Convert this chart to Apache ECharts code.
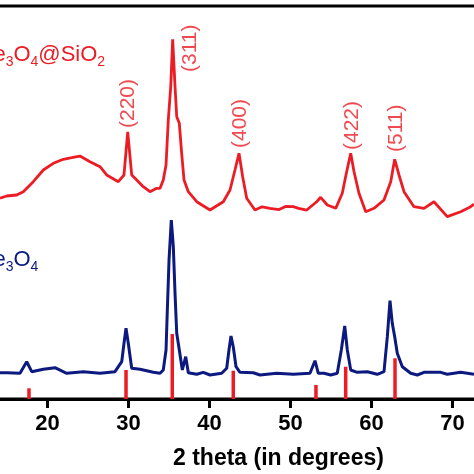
<!DOCTYPE html>
<html>
<head>
<meta charset="utf-8">
<script src="https://cdn.jsdelivr.net/npm/echarts@6/dist/echarts.min.js"></script>
<style>
  html, body { margin: 0; padding: 0; background: #fff; }
  #chart { width: 474px; height: 474px; }
</style>
</head>
<body>
<div id="chart"></div>
<script>
// XRD patterns (2 theta in degrees, intensity in arbitrary units 0..100)
const redTheta = [14.14, 14.97, 16.20, 17.02, 18.25, 19.49, 20.72, 21.96, 22.99, 24.02,
  25.25, 26.49, 27.31, 28.75, 29.45, 29.91, 30.40, 30.81, 31.83, 32.66,
  33.49, 33.90, 34.30, 34.64, 34.92, 35.22, 35.46, 35.75, 35.96, 36.28,
  36.57, 36.86, 37.39, 38.43, 40.07, 41.71, 42.54, 43.15, 43.65, 44.10,
  44.60, 45.62, 46.50, 47.48, 48.60, 49.40, 50.35, 51.00, 52.01, 53.24,
  53.73, 54.55, 55.59, 56.40, 56.90, 57.44, 57.85, 58.46, 59.29, 60.31,
  61.55, 62.38, 62.87, 63.40, 64.02, 65.25, 66.49, 67.72, 69.36, 71.02,
  72.25, 72.66];
const redInt = [51.07, 51.65, 51.91, 52.75, 55.29, 58.27, 59.97, 60.99, 61.40, 61.83,
  60.38, 59.11, 57.00, 55.29, 57.00, 67.94, 57.00, 56.16, 54.02, 52.75,
  53.61, 53.61, 55.73, 59.54, 70.99, 79.47, 91.53, 79.47, 71.83, 70.15,
  62.52, 55.73, 52.75, 50.20, 48.09, 50.20, 53.18, 58.27, 62.52, 56.56,
  51.07, 48.09, 48.90, 48.52, 48.20, 49.00, 48.93, 48.50, 48.09, 50.20,
  51.32, 49.36, 48.52, 52.34, 57.43, 62.52, 57.84, 52.34, 47.66, 48.52,
  50.64, 55.29, 60.99, 57.00, 52.75, 48.93, 48.52, 50.20, 46.39, 47.66,
  48.93, 49.62];

const navyTheta = [14.14, 14.97, 16.61, 17.44, 18.06, 19.49, 20.93, 22.38, 24.43, 26.49,
  28.34, 29.17, 29.45, 29.70, 29.98, 30.40, 31.43, 33.07, 33.90, 34.30,
  34.64, 34.80, 35.01, 35.29, 35.54, 35.75, 35.96, 36.28, 36.65, 37.07,
  37.39, 38.43, 39.24, 40.07, 41.51, 42.13, 42.41, 42.66, 42.94, 43.28,
  43.77, 45.41, 46.24, 48.30, 50.35, 52.41, 53.03, 53.44, 54.14, 54.97,
  55.78, 56.28, 56.70, 57.02, 57.44, 58.25, 59.49, 60.72, 61.55, 61.96,
  62.29, 62.57, 62.87, 63.19, 63.81, 64.85, 65.66, 66.49, 68.55, 69.36,
  71.02, 72.66];
const navyInt = [6.69, 6.69, 6.54, 9.49, 6.95, 7.56, 7.96, 6.54, 6.95, 6.54,
  6.95, 9.49, 14.17, 17.99, 14.17, 7.81, 7.56, 6.79, 6.54, 7.38,
  12.47, 22.65, 35.37, 45.55, 38.75, 26.90, 16.72, 12.47, 7.38, 10.76,
  6.69, 6.29, 6.79, 6.11, 6.54, 7.81, 12.47, 16.03, 13.31, 8.22,
  6.79, 6.69, 6.11, 6.54, 6.29, 6.54, 9.75, 6.54, 6.54, 6.11,
  6.54, 12.47, 18.58, 12.47, 7.38, 6.79, 6.95, 6.29, 6.95, 15.85,
  25.01, 19.26, 15.85, 11.63, 8.22, 6.54, 6.11, 6.79, 6.79, 6.29,
  6.79, 6.29];

// reference (standard card) lines
const refTheta = [17.72, 29.70, 35.41, 42.94, 53.15, 56.82, 62.91];
const refInt = [2.72, 7.38, 16.54, 7.20, 3.56, 8.22, 10.36];

// Miller index labels and where their text starts
const hklLabels = ['(220)', '(311)', '(400)', '(422)', '(511)'];
const hklTheta = [29.91, 37.60, 43.77, 57.60, 63.03];
const hklInt = [68.96, 83.21, 63.87, 63.36, 62.85];

const xTicks = [10, 20, 30, 40, 50, 60, 70, 80];

const RED = '#ec1c24';
const NAVY = '#0c1a80';
const FONT = 'Liberation Sans, Arial, sans-serif';

const zip = (a, b) => a.map((v, i) => [v, b[i]]);

const chart = echarts.init(document.getElementById('chart'));

function sampleName(parts, color) {
  // parts: [[text, isSub], ...]
  return {
    text: parts.map(p => (p[1] ? '{s|' : '{m|') + p[0] + '}').join(''),
    fill: color,
    verticalAlign: 'top',
    rich: {
      m: { fontSize: 22, lineHeight: 22, verticalAlign: 'top', fontFamily: FONT, fill: color },
      s: { fontSize: 14, lineHeight: 25, verticalAlign: 'bottom', fontFamily: FONT, fill: color }
    }
  };
}

chart.setOption({
  backgroundColor: '#fff',
  animation: false,
  grid: {
    left: -33.55,
    right: -59.45,
    top: 6,
    bottom: 75,
    show: true,
    borderColor: '#000',
    borderWidth: 3,
    containLabel: false,
    outerBoundsMode: 'none'
  },
  xAxis: {
    type: 'value',
    min: xTicks[0],
    max: xTicks[xTicks.length - 1],
    interval: 10,
    name: '2 theta (in degrees)',
    nameLocation: 'middle',
    nameGap: 48,
    nameTextStyle: {
      fontSize: 23, fontWeight: 'bold', color: '#000', fontFamily: FONT,
      padding: [0, 0, 0, 57]
    },
    axisLine: { lineStyle: { color: '#000', width: 3 } },
    axisTick: { show: true, inside: false, length: 9, lineStyle: { color: '#000', width: 3 } },
    axisLabel: { fontSize: 22, fontWeight: 'bold', color: '#000', fontFamily: FONT, margin: 14 },
    splitLine: { show: false }
  },
  yAxis: {
    type: 'value',
    min: 0,
    max: 100,
    show: false
  },
  graphic: [
    {
      type: 'text', x: -20, y: 44, z: 100,
      style: sampleName([['Fe', 0], ['3', 1], ['O', 0], ['4', 1], ['@SiO', 0], ['2', 1]], RED)
    },
    {
      type: 'text', x: -20, y: 249, z: 100,
      style: sampleName([['Fe', 0], ['3', 1], ['O', 0], ['4', 1]], NAVY)
    }
  ],
  series: [
    {
      name: 'Fe3O4@SiO2',
      type: 'line',
      data: zip(redTheta, redInt),
      symbol: 'none',
      lineStyle: { color: RED, width: 2.8 },
      z: 2
    },
    {
      name: 'Fe3O4',
      type: 'line',
      data: zip(navyTheta, navyInt),
      symbol: 'none',
      lineStyle: { color: NAVY, width: 3 },
      z: 2
    },
    {
      name: 'JCPDS',
      type: 'bar',
      data: zip(refTheta, refInt),
      barWidth: 3.5,
      itemStyle: { color: RED },
      z: 3
    },
    {
      name: 'hkl',
      type: 'scatter',
      symbolSize: 0,
      silent: true,
      data: hklLabels.map((t, i) => ({ name: t, value: [hklTheta[i], hklInt[i]] })),
      label: {
        show: true,
        formatter: p => p.name,
        position: [0, 0],
        rotate: 90,
        align: 'left',
        verticalAlign: 'middle',
        fontSize: 21,
        fontFamily: FONT,
        color: RED
      },
      z: 4
    }
  ]
});
</script>
</body>
</html>
